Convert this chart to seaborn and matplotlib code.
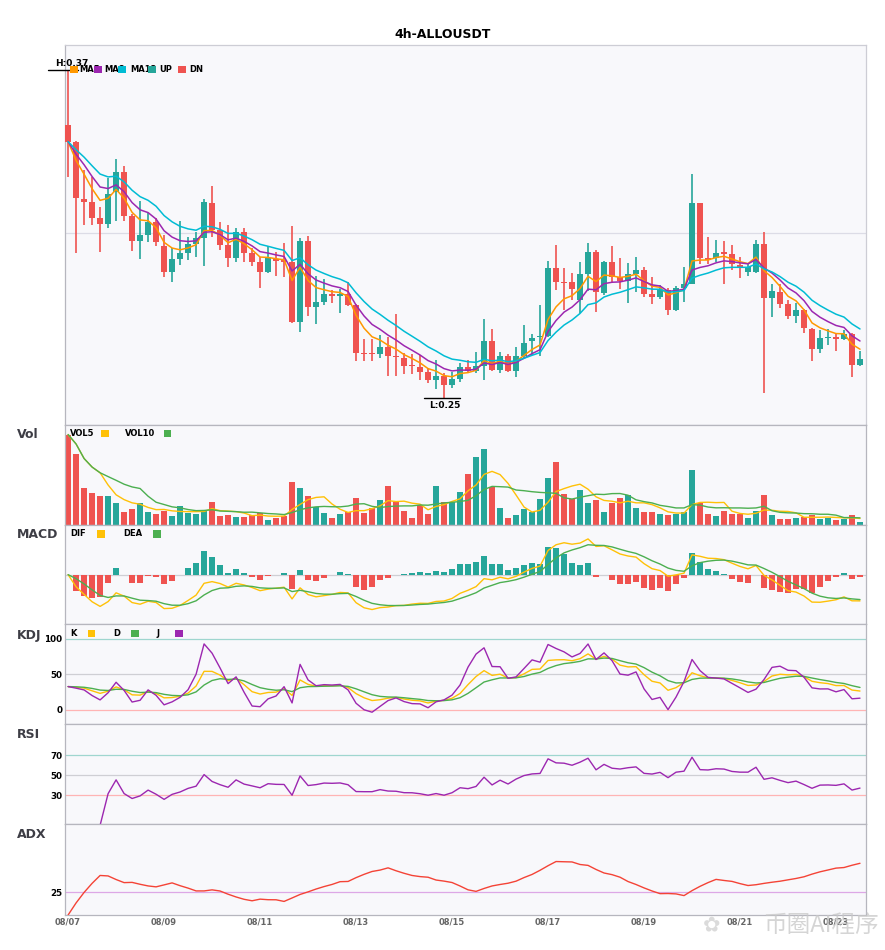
import numpy as np
import pandas as pd
import matplotlib
matplotlib.use("Agg")
import matplotlib.pyplot as plt
import seaborn as sns
from matplotlib.patches import Rectangle

sns.set_theme(style="white")
plt.rcParams['font.family'] = ['DejaVu Sans', 'Noto Sans CJK SC']

# ---------------- data ----------------
title = "4h-ALLOUSDT"
dates = pd.date_range("2025-08-07 00:00", periods=100, freq="4h")

open_ = [0.3498, 0.3437, 0.3225, 0.3216, 0.3157, 0.3136, 0.3253, 0.3326, 0.3165, 0.3074,
         0.3096, 0.3141, 0.3054, 0.2960, 0.3006, 0.3030, 0.3060, 0.3085, 0.3211, 0.3113,
         0.3058, 0.3011, 0.3104, 0.3030, 0.2995, 0.2960, 0.3005, 0.3003, 0.2994, 0.2776,
         0.3072, 0.2831, 0.2850, 0.2877, 0.2872, 0.2877, 0.2838, 0.2662, 0.2662, 0.2658,
         0.2685, 0.2652, 0.2643, 0.2616, 0.2610, 0.2592, 0.2562, 0.2577, 0.2545, 0.2566,
         0.2610, 0.2596, 0.2615, 0.2705, 0.2599, 0.2652, 0.2595, 0.2652, 0.2705, 0.2719,
         0.2724, 0.2972, 0.2923, 0.2923, 0.2856, 0.2951, 0.3032, 0.2883, 0.2995, 0.2939,
         0.2927, 0.2951, 0.2966, 0.2878, 0.2868, 0.2893, 0.2819, 0.2899, 0.2915, 0.3211,
         0.3009, 0.3009, 0.3031, 0.3025, 0.2984, 0.2960, 0.2960, 0.3061, 0.2864, 0.2886,
         0.2841, 0.2797, 0.2819, 0.2749, 0.2676, 0.2716, 0.2720, 0.2713, 0.2730, 0.2617]
high = [0.3700, 0.3440, 0.3333, 0.3308, 0.3198, 0.3303, 0.3373, 0.3348, 0.3170, 0.3219,
        0.3174, 0.3156, 0.3094, 0.3046, 0.3146, 0.3088, 0.3104, 0.3227, 0.3274, 0.3141,
        0.3131, 0.3119, 0.3119, 0.3046, 0.3015, 0.3055, 0.3033, 0.3064, 0.3127, 0.3082,
        0.3091, 0.2944, 0.2932, 0.2893, 0.2895, 0.2923, 0.2840, 0.2712, 0.2712, 0.2727,
        0.2721, 0.2805, 0.2660, 0.2657, 0.2654, 0.2605, 0.2636, 0.2587, 0.2593, 0.2624,
        0.2636, 0.2666, 0.2786, 0.2748, 0.2666, 0.2657, 0.2685, 0.2764, 0.2730, 0.2838,
        0.2999, 0.3058, 0.2972, 0.2956, 0.2996, 0.3064, 0.3039, 0.3000, 0.3054, 0.3009,
        0.2991, 0.3013, 0.2976, 0.2939, 0.2911, 0.2899, 0.2907, 0.2976, 0.3318, 0.3213,
        0.3086, 0.3076, 0.3074, 0.3058, 0.3013, 0.2991, 0.3076, 0.3107, 0.2915, 0.2915,
        0.2856, 0.2846, 0.2822, 0.2752, 0.2746, 0.2749, 0.2730, 0.2746, 0.2734, 0.2669]
low = [0.3308, 0.3027, 0.3131, 0.3131, 0.3033, 0.3121, 0.3146, 0.3146, 0.3037, 0.3007,
       0.3070, 0.3054, 0.2939, 0.2923, 0.2984, 0.3003, 0.3015, 0.2982, 0.3088, 0.3039,
       0.2978, 0.2996, 0.2994, 0.2982, 0.2901, 0.2956, 0.2945, 0.2941, 0.2770, 0.2740,
       0.2797, 0.2768, 0.2838, 0.2846, 0.2809, 0.2834, 0.2633, 0.2633, 0.2633, 0.2642,
       0.2578, 0.2578, 0.2584, 0.2584, 0.2562, 0.2552, 0.2528, 0.2497, 0.2532, 0.2556,
       0.2593, 0.2587, 0.2562, 0.2596, 0.2587, 0.2593, 0.2574, 0.2642, 0.2654, 0.2650,
       0.2721, 0.2893, 0.2819, 0.2856, 0.2809, 0.2890, 0.2813, 0.2874, 0.2919, 0.2895,
       0.2846, 0.2886, 0.2868, 0.2841, 0.2858, 0.2801, 0.2817, 0.2850, 0.2915, 0.2988,
       0.2988, 0.2996, 0.2915, 0.2966, 0.2936, 0.2944, 0.2956, 0.2514, 0.2795, 0.2825,
       0.2785, 0.2773, 0.2736, 0.2632, 0.2662, 0.2691, 0.2670, 0.2709, 0.2574, 0.2614]
close = [0.3437, 0.3229, 0.3217, 0.3158, 0.3136, 0.3245, 0.3326, 0.3165, 0.3074, 0.3094,
         0.3141, 0.3070, 0.2960, 0.3005, 0.3027, 0.3061, 0.3082, 0.3214, 0.3113, 0.3058,
         0.3011, 0.3104, 0.3030, 0.2996, 0.2960, 0.3009, 0.2998, 0.2996, 0.2776, 0.3072,
         0.2831, 0.2849, 0.2878, 0.2872, 0.2878, 0.2838, 0.2662, 0.2658, 0.2658, 0.2685,
         0.2652, 0.2647, 0.2615, 0.2613, 0.2593, 0.2562, 0.2577, 0.2545, 0.2566, 0.2610,
         0.2596, 0.2615, 0.2705, 0.2599, 0.2652, 0.2595, 0.2652, 0.2697, 0.2718, 0.2724,
         0.2972, 0.2923, 0.2919, 0.2895, 0.2951, 0.3032, 0.2885, 0.2995, 0.2939, 0.2927,
         0.2951, 0.2966, 0.2878, 0.2868, 0.2893, 0.2819, 0.2899, 0.2915, 0.3211, 0.3009,
         0.3003, 0.3030, 0.3025, 0.2987, 0.2976, 0.2976, 0.3061, 0.2864, 0.2889, 0.2841,
         0.2797, 0.2819, 0.2754, 0.2676, 0.2718, 0.2720, 0.2713, 0.2730, 0.2617, 0.2639]
volume_k = [271, 214, 112, 97, 88, 88, 67, 40, 49, 67,
            40, 34, 43, 28, 58, 37, 34, 46, 70, 28,
            31, 25, 25, 31, 37, 16, 22, 28, 130, 112,
            88, 55, 37, 22, 34, 40, 82, 37, 52, 76,
            118, 68, 43, 22, 61, 34, 118, 70, 70, 100,
            154, 205, 229, 115, 52, 22, 31, 49, 40, 79,
            142, 190, 94, 79, 106, 67, 76, 40, 67, 82,
            91, 52, 40, 40, 34, 31, 34, 40, 166, 67,
            34, 28, 43, 34, 34, 22, 43, 91, 31, 19,
            19, 22, 25, 31, 19, 22, 16, 19, 31, 10]

ma_periods = [5, 8, 13]
ma_labels = ["MA5", "MA8", "MA13"]
kdj_ticks = [0, 50, 100]
rsi_ticks = [30, 50, 70]
adx_ticks = [25]

# ---------------- indicators ----------------
df = pd.DataFrame({"open": open_, "high": high, "low": low, "close": close,
                   "volume": np.array(volume_k) * 1000.0})
n = len(df)
xs = np.arange(n)
C, O, Hh, Ll = df.close, df.open, df.high, df.low

mas = [C.ewm(span=p, adjust=False).mean() for p in ma_periods]
vol5 = df.volume.rolling(5, min_periods=1).mean()
vol10 = df.volume.rolling(10, min_periods=1).mean()

ema_f = C.ewm(span=6, adjust=False).mean()
ema_s = C.ewm(span=13, adjust=False).mean()
dif = ema_f - ema_s
dea = dif.ewm(span=5, adjust=False).mean()
hist = 2 * (dif - dea)

low9 = Ll.rolling(9, min_periods=1).min()
high9 = Hh.rolling(9, min_periods=1).max()
rsv = (C - low9) / (high9 - low9) * 100
K = rsv.ewm(com=2, adjust=False).mean()
D = K.ewm(com=2, adjust=False).mean()
J = 3 * K - 2 * D

delta = C.diff()
gain = delta.clip(lower=0)
loss = (-delta).clip(lower=0)
ag = gain.ewm(com=13, adjust=True, min_periods=4).mean()
al = loss.ewm(com=13, adjust=True, min_periods=4).mean()
rsi = 100 * ag / (ag + al)

prev_c = C.shift(1)
tr = pd.concat([Hh - Ll, (Hh - prev_c).abs(), (Ll - prev_c).abs()], axis=1).max(axis=1)
up_m = Hh.diff()
dn_m = -Ll.diff()
pdm = pd.Series(np.where((up_m > dn_m) & (up_m > 0), up_m, 0.0))
mdm = pd.Series(np.where((dn_m > up_m) & (dn_m > 0), dn_m, 0.0))
atr = tr.ewm(span=14, adjust=False).mean()
pdi = 100 * pdm.ewm(span=14, adjust=False).mean() / atr
mdi = 100 * mdm.ewm(span=14, adjust=False).mean() / atr
dx = (100 * (pdi - mdi).abs() / (pdi + mdi)).fillna(0)
adx = dx.ewm(span=14, adjust=False).mean()

# ---------------- styling ----------------
UP, DN = "#26a69a", "#ef5350"
MA_COLORS = ["#ff9800", "#9c27b0", "#00bcd4"]
C_Y, C_G, C_P = "#ffc107", "#4caf50", "#9c27b0"
FACE = "#f8f8fb"
SPINE = "#b6b6be"

W, Hpx = 885, 950
fig = plt.figure(figsize=(W / 100, Hpx / 100), dpi=100)
fig.patch.set_facecolor("white")

L_PX, R_PX = 65.3, 866


def rect(top, bottom):
    return [L_PX / W, 1 - bottom / Hpx, (R_PX - L_PX) / W, (bottom - top) / Hpx]


ax_m = fig.add_axes(rect(45, 425))
ax_v = fig.add_axes(rect(425, 525), sharex=ax_m)
ax_macd = fig.add_axes(rect(525, 624.3), sharex=ax_m)
ax_kdj = fig.add_axes(rect(624.3, 724.3), sharex=ax_m)
ax_rsi = fig.add_axes(rect(724.3, 824.3), sharex=ax_m)
ax_adx = fig.add_axes(rect(824.3, 915), sharex=ax_m)
axes = [ax_m, ax_v, ax_macd, ax_kdj, ax_rsi, ax_adx]

for ax in axes:
    ax.set_facecolor(FACE)
    for s in ax.spines.values():
        s.set_color(SPINE)
        s.set_linewidth(0.9)
    ax.tick_params(axis="both", length=0, pad=2)
    ax.tick_params(axis="x", labelbottom=False)
    ax.grid(False)
    ax.set_yticks([])
ax_m.spines["top"].set_color("#cdcdd5")
ax_m.spines["right"].set_color("#cdcdd5")

is_up = (C >= O).values
cols = np.where(is_up, UP, DN)

# --- main candles ---
ax_m.axhline(0.31, color="#dcdce6", lw=0.9, zorder=0)
ax_m.vlines(xs, Ll, Hh, colors=cols, lw=1.2, zorder=2)
body_bot = np.minimum(O, C)
body_h = np.maximum((C - O).abs(), 0.00035)
ax_m.bar(xs, body_h, bottom=body_bot, width=0.74, color=cols, linewidth=0, zorder=3)
for ma, colr in zip(mas, MA_COLORS):
    sns.lineplot(x=xs, y=ma.values, ax=ax_m, color=colr, lw=1.1, zorder=4, legend=False)
ax_m.set_ylim(0.23972, 0.37917)
ax_m.set_xlim(-0.35, 99.75)

ih = int(np.argmax(high))
il = int(np.argmin(low))
ax_m.plot([ih - 2.5, ih + 1.3], [high[ih], high[ih]], color="black", lw=1.0, clip_on=False, zorder=6)
ax_m.annotate(f"H:{high[ih]:.2f}", xy=(ih + 0.5, high[ih]), xytext=(0, 1.5), textcoords="offset points",
              ha="center", va="bottom", fontsize=6.5, fontweight="bold", color="black", zorder=7,
              annotation_clip=False)
ax_m.plot([il - 2.5, il + 2.0], [low[il], low[il]], color="black", lw=1.0, clip_on=False, zorder=6)
ax_m.annotate(f"L:{low[il]:.2f}", xy=(il + 0.1, low[il]), xytext=(0, -2.5), textcoords="offset points",
              ha="center", va="top", fontsize=6.5, fontweight="bold", color="black", zorder=7,
              annotation_clip=False)

# --- volume ---
ax_v.bar(xs, df.volume, width=0.76, color=cols, linewidth=0, zorder=2)
sns.lineplot(x=xs, y=vol5.values, ax=ax_v, color=C_Y, lw=1.0, zorder=3, legend=False)
sns.lineplot(x=xs, y=vol10.values, ax=ax_v, color=C_G, lw=1.0, zorder=3, legend=False)
ax_v.set_ylim(0, df.volume.max() * 1.105)
ax_v.set_yticks([])

# --- MACD ---
ax_macd.axhline(0, color="#cfcfd4", lw=0.9, zorder=0)
ax_macd.bar(xs, hist, width=0.74, color=np.where(hist >= 0, UP, DN), linewidth=0, zorder=2)
sns.lineplot(x=xs, y=dif.values, ax=ax_macd, color=C_Y, lw=1.0, zorder=3, legend=False)
sns.lineplot(x=xs, y=dea.values, ax=ax_macd, color=C_G, lw=1.0, zorder=3, legend=False)
mm = max(np.nanmax(np.abs(dif)), np.nanmax(np.abs(dea)), np.nanmax(np.abs(hist)))
ax_macd.set_ylim(-mm * 1.39, mm * 1.39)
ax_macd.set_yticks([])

# --- KDJ ---
ax_kdj.axhline(100, color="#9fd6cf", lw=0.9, zorder=0)
ax_kdj.axhline(50, color="#cfcfd4", lw=0.9, zorder=0)
ax_kdj.axhline(0, color="#ffb4b4", lw=0.9, zorder=0)
sns.lineplot(x=xs, y=K.values, ax=ax_kdj, color=C_Y, lw=1.0, zorder=3, legend=False)
sns.lineplot(x=xs, y=D.values, ax=ax_kdj, color=C_G, lw=1.0, zorder=3, legend=False)
sns.lineplot(x=xs, y=J.values, ax=ax_kdj, color=C_P, lw=1.0, zorder=3, legend=False)
ax_kdj.set_ylim(-20.2, 120.6)
ax_kdj.set_yticks(kdj_ticks)

# --- RSI ---
ax_rsi.axhline(70, color="#9fd6cf", lw=0.9, zorder=0)
ax_rsi.axhline(50, color="#cfcfd4", lw=0.9, zorder=0)
ax_rsi.axhline(30, color="#ffb4b4", lw=0.9, zorder=0)
sns.lineplot(x=xs, y=rsi.values, ax=ax_rsi, color=C_P, lw=1.0, zorder=3, legend=False)
ax_rsi.set_ylim(1, 101)
ax_rsi.set_yticks(rsi_ticks)

# --- ADX ---
ax_adx.axhline(25, color="#dda8e6", lw=0.9, zorder=0)
sns.lineplot(x=xs, y=adx.values, ax=ax_adx, color="#f44336", lw=1.0, zorder=3, legend=False)
ax_adx.set_ylim(0, 100)
ax_adx.set_yticks(adx_ticks)

for ax in (ax_kdj, ax_rsi, ax_adx):
    ax.tick_params(axis="y", labelsize=6.3, pad=2, length=0, labelcolor="black")
    for t in ax.get_yticklabels():
        t.set_fontweight("bold")

for ax in axes:
    ax.set_xlabel("")
    ax.set_ylabel("")

tick_idx = list(range(0, n, 12))
ax_adx.set_xticks(tick_idx)
ax_adx.set_xticklabels([dates[i].strftime("%m/%d") for i in tick_idx], fontweight="bold")
ax_adx.tick_params(axis="x", labelbottom=True, labelsize=6, labelcolor="#666666", pad=2, length=0)
ax_adx.set_xlim(-0.35, 99.75)


# ---------------- texts / legends in pixel coordinates ----------------
def ftext(x, y, s, **kw):
    fig.text(x / W, 1 - y / Hpx, s, **kw)


def fsq(x, y, color, size=7.5):
    fig.patches.append(Rectangle((x / W, 1 - (y + size) / Hpx), size / W, size / Hpx,
                                 transform=fig.transFigure, facecolor=color, edgecolor="none",
                                 zorder=11))


ftext(443, 34, title, ha="center", va="center", fontsize=9, fontweight="bold", color="black")

# main legend
leg_main = [(70, 79, ma_labels[0], MA_COLORS[0]), (94, 104.5, ma_labels[1], MA_COLORS[1]),
            (118, 130.5, ma_labels[2], MA_COLORS[2]), (148, 159, "UP", UP), (178, 189, "DN", DN)]
for xq, xt, lab, colr in leg_main:
    fsq(xq, 65.7, colr)
    ftext(xt, 69.5, lab, ha="left", va="center", fontsize=6, fontweight="bold", color="black", zorder=10)

# sub panel legends
ftext(70, 434, "VOL5", ha="left", va="center", fontsize=6, fontweight="bold", color="black", zorder=10)
fsq(101.3, 429.7, C_Y)
ftext(125.3, 434, "VOL10", ha="left", va="center", fontsize=6, fontweight="bold", color="black", zorder=10)
fsq(163.7, 429.7, C_G)

ftext(70, 534, "DIF", ha="left", va="center", fontsize=6, fontweight="bold", color="black", zorder=10)
fsq(97, 530, C_Y)
ftext(123.3, 534, "DEA", ha="left", va="center", fontsize=6, fontweight="bold", color="black", zorder=10)
fsq(153, 530, C_G)

ftext(70, 633.7, "K", ha="left", va="center", fontsize=6, fontweight="bold", color="black", zorder=10)
fsq(87.5, 629.5, C_Y)
ftext(113.3, 633.7, "D", ha="left", va="center", fontsize=6, fontweight="bold", color="black", zorder=10)
fsq(131.2, 629.5, C_G)
ftext(156.7, 633.7, "J", ha="left", va="center", fontsize=6, fontweight="bold", color="black", zorder=10)
fsq(175, 629.5, C_P)

for lab, yy in [("Vol", 434.5), ("MACD", 535), ("KDJ", 635), ("RSI", 735), ("ADX", 835)]:
    ftext(17, yy, lab, ha="left", va="center", fontsize=9, fontweight="bold", color="#3d3d45")

# watermark
fig.text(712 / W, 1 - 925 / Hpx, "✿", ha="center", va="center", fontsize=15,
         color="#cccccc", alpha=0.7, zorder=12)
fig.text(879 / W, 1 - 925 / Hpx, "币圈AI程序", ha="right", va="center", fontsize=17,
         color="#c8c8c8", alpha=0.75, family=["Noto Sans CJK SC", "DejaVu Sans"], zorder=12)

fig.savefig("out.png", dpi=100, facecolor="white")
